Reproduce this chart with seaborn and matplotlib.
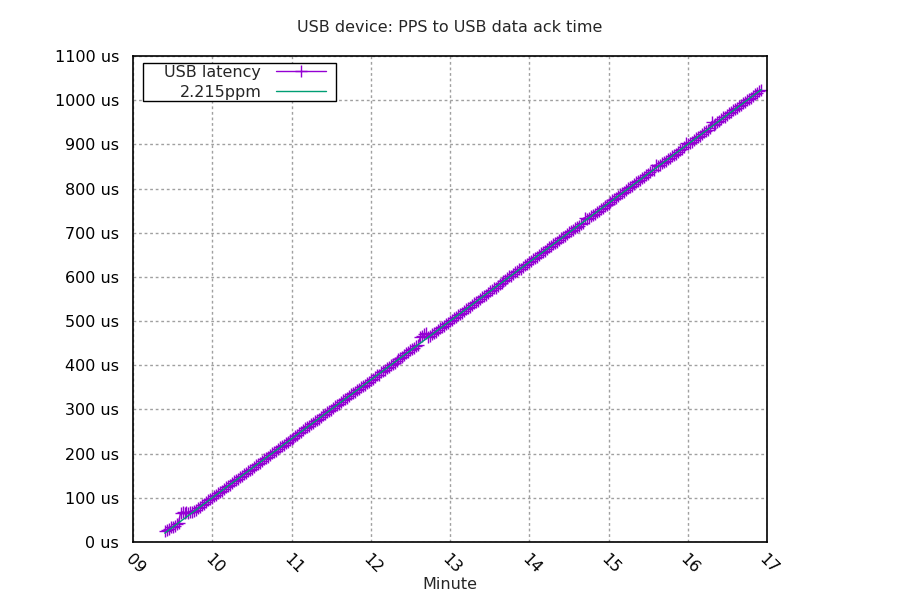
import matplotlib
matplotlib.use("Agg")
from matplotlib import pyplot as plt
from matplotlib.patches import Rectangle
from matplotlib.ticker import FuncFormatter, MultipleLocator
import numpy as np
import pandas as pd
import seaborn as sns

# start of capture, before the latency settles onto the drift line
early_minutes = [9.40, 9.425, 9.45, 9.475, 9.50, 9.525, 9.55, 9.575,
                 9.60, 9.625, 9.65, 9.675, 9.70, 9.725, 9.75, 9.775]
early_us = [26, 28, 30, 33, 35, 37, 41, 44,
            66, 68, 65, 67, 66, 67, 67, 70]

# rest of the capture, one sample every 1.5 s from minute 9.80
main_start = 9.80
main_step = 0.025
main_us = [
    73, 77, 80, 83, 86, 90, 94, 97, 99, 104, 107, 110,
    114, 116, 119, 124, 127, 130, 134, 137, 140, 143, 146, 150,
    154, 156, 161, 163, 166, 170, 174, 177, 179, 184, 188, 190,
    193, 197, 201, 203, 206, 210, 214, 217, 219, 224, 227, 230,
    234, 236, 240, 243, 246, 250, 254, 257, 261, 263, 266, 270,
    274, 276, 279, 284, 287, 290, 294, 296, 299, 304, 307, 310,
    313, 317, 321, 323, 326, 330, 334, 337, 340, 343, 346, 350,
    354, 356, 361, 363, 366, 370, 374, 377, 379, 384, 387, 390,
    393, 397, 401, 403, 406, 410, 414, 417, 419, 424, 427, 430,
    434, 436, 440, 443, 446, 464, 466, 470, 472, 464, 467, 470,
    474, 476, 479, 484, 487, 490, 494, 496, 500, 503, 506, 510,
    514, 516, 519, 523, 527, 530, 533, 537, 541, 543, 546, 550,
    554, 556, 559, 563, 567, 570, 574, 576, 579, 583, 587, 590,
    593, 597, 601, 603, 606, 610, 614, 617, 619, 623, 627, 630,
    633, 637, 641, 643, 646, 650, 654, 657, 659, 663, 667, 670,
    674, 676, 679, 683, 687, 690, 693, 697, 701, 703, 706, 710,
    714, 716, 719, 723, 734, 730, 733, 737, 740, 743, 747, 750,
    753, 757, 761, 763, 766, 770, 774, 777, 779, 783, 787, 790,
    793, 797, 801, 803, 806, 810, 814, 817, 819, 823, 827, 830,
    833, 837, 841, 843, 854, 850, 853, 857, 860, 863, 867, 870,
    874, 876, 879, 883, 887, 890, 893, 903, 901, 903, 906, 910,
    914, 916, 919, 923, 927, 930, 933, 937, 951, 943, 947, 950,
    953, 957, 961, 963, 966, 970, 974, 977, 979, 983, 987, 990,
    993, 997, 1001, 1003, 1006, 1010, 1014, 1017, 1021, 1024,
]

# linear fit (2.215 ppm drift)
fit_minutes = [9.40, 16.93]
fit_us = [20.0, 1024.0]

y_ticks = list(range(0, 1101, 100))

sns.set_style("white")
plt.rcParams["font.family"] = ["DejaVu Sans"]
plt.rcParams["font.size"] = 11.5

main_minutes = list(np.round(main_start + main_step * np.arange(len(main_us)), 3))
data = pd.DataFrame({"minute": early_minutes + main_minutes,
                     "latency": early_us + main_us})
fit = pd.DataFrame({"minute": fit_minutes, "latency": fit_us})

fig = plt.figure(figsize=(9, 6), dpi=100)
ax = fig.add_axes([133 / 900, 1 - 542 / 600, (767 - 133) / 900, (542 - 56) / 600])

sns.lineplot(
    data=data, x="minute", y="latency", ax=ax, sort=False, estimator=None,
    color="#9400d3", linewidth=1, marker="+", markersize=8,
    markeredgewidth=1, markeredgecolor="#9400d3", label="USB latency",
)
sns.lineplot(
    data=fit, x="minute", y="latency", ax=ax, sort=False, estimator=None,
    color="#009e73", linewidth=1, label="2.215ppm", zorder=3,
)

ax.set_xlim(9, 17)
ax.set_ylim(0, 1100)
ax.set_yticks(y_ticks)
ax.yaxis.set_major_formatter(FuncFormatter(lambda v, p: f"{int(v)} us"))
ax.xaxis.set_major_locator(MultipleLocator(1))
ax.xaxis.set_major_formatter(FuncFormatter(lambda v, p: f"{int(round(v)):02d}"))

ax.grid(True, color="#a0a0a0", linestyle=(0, (2, 2)), linewidth=1)
ax.set_axisbelow(True)
for s in ax.spines.values():
    s.set_color("black")
    s.set_linewidth(1.2)
ax.tick_params(direction="in", length=5, width=1, color="black", labelcolor="black")
ax.tick_params(axis="y", pad=10)
ax.tick_params(axis="x", pad=7)
for lbl in ax.get_xticklabels():
    lbl.set_rotation(-45)
    lbl.set_ha("left")
    lbl.set_va("top")
    lbl.set_rotation_mode("anchor")

ax.set_xlabel("Minute", labelpad=0)
ax.set_ylabel("")
fig.text(0.5, 1 - 27 / 600, "USB device: PPS to USB data ack time",
         ha="center", va="center", fontsize=11.5)

# gnuplot-style key: white box, right-aligned titles, sample to the right
key_box = Rectangle((143 / 900, 1 - 101 / 600), (336 - 143) / 900, 38 / 600,
                    transform=fig.transFigure, facecolor="white",
                    edgecolor="black", linewidth=1, zorder=4, clip_on=False)
ax.add_patch(key_box)

leg = ax.legend(loc="upper right", bbox_to_anchor=(326 / 900, 1 - 65 / 600),
                bbox_transform=fig.transFigure, markerfirst=False,
                frameon=False, borderaxespad=0, borderpad=0,
                handlelength=3.1, labelspacing=0.3, handletextpad=0.95)
leg.set_zorder(5)
leg._legend_box.align = "right"
for t in leg.get_texts():
    t.set_ha("right")

fig.savefig("out.png", dpi=100)
